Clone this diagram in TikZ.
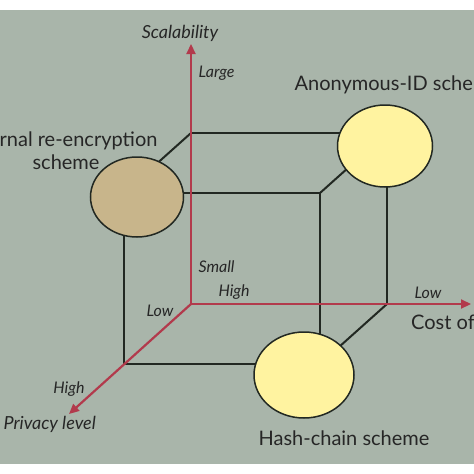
\documentclass[tikz,border=0pt]{standalone}
\usepackage{fontspec}
\setmainfont{Lato}
\usetikzlibrary{arrows.meta,shapes.geometric}
\definecolor{bg}{HTML}{A9B5AA}
\definecolor{axiscol}{HTML}{B23A4C}
\definecolor{yel}{HTML}{FFF3A0}
\definecolor{tanfill}{HTML}{C8B58B}
\definecolor{edge}{HTML}{222822}
\tikzset{
  cube/.style={draw=edge, line width=2pt},
  axisline/.style={draw=axiscol, line width=2.2pt, -{Triangle[length=10pt,width=9pt]}},
  scheme/.style={ellipse, draw=edge, line width=1.5pt, inner sep=0pt},
  big/.style={font=\fontsize{20}{23}\selectfont, text=black!85, align=center},
  ax/.style={font=\fontsize{18}{21}\selectfont\itshape, text=black!85},
  tick/.style={font=\fontsize{16}{19}\selectfont\itshape, text=black!85},
}
\begin{document}
\begin{tikzpicture}[x=1pt,y=-1pt]
\fill[white] (0,0) rectangle (474,474);
\fill[bg] (0,10) rectangle (474,464);
\useasboundingbox (0,0) rectangle (474,474);
% cube vertices
\coordinate (O) at (191,304);
\coordinate (BTL) at (191,133);
\coordinate (BTR) at (387,133);
\coordinate (BBR) at (387,304);
\coordinate (FBL) at (124,364);
\coordinate (FTL) at (124,193);
\coordinate (FTR) at (320,193);
\coordinate (FBR) at (320,364);
\coordinate (Ytip) at (191,44);
\coordinate (Xtip) at (471,304);
\coordinate (Ztip) at (69,414);
% cube edges
\draw[cube] (BTL) -- (BTR) -- (BBR);
\draw[cube] (BTL) -- (FTL);
\draw[cube] (BTR) -- (FTR);
\draw[cube] (BBR) -- (FBR);
\draw[cube] (FTL) -- (FTR) -- (FBR);
\draw[cube] (FTL) -- (FBL) -- (FBR);
% axes
\draw[axisline] (O) -- (Ytip);
\draw[axisline] (O) -- (Xtip);
\draw[axisline] (O) -- (Ztip);
% scheme ellipses
\node[scheme, fill=yel, minimum width=95pt, minimum height=82pt] (anon) at (385,146) {};
\node[scheme, fill=tanfill, minimum width=93pt, minimum height=80pt] (ext) at (137,197) {};
\node[scheme, fill=yel, minimum width=100pt, minimum height=86pt] (hash) at (304,375) {};
% labels
\node[big, anchor=east, inner sep=0pt] (anonlbl) at (473,85) {Anonymous-ID sche};
\node[big, anchor=east] (extlbl1) at (161,141) {rnal re-encryption};
\node[big] (extlbl2) at (66,162) {scheme};
\node[big] (hashlbl) at (344,438) {Hash-chain scheme};
\node[big, anchor=west, inner sep=0pt] (costlbl) at (411,322) {Cost of};
\node[ax] (scal) at (180,33) {Scalability};
\node[ax, anchor=west] (priv) at (0,424) {Privacy level};
\node[tick, anchor=west] (large) at (195,73) {Large};
\node[tick, anchor=west] (small) at (195,267) {Small};
\node[tick, anchor=west] (highx) at (215,292) {High};
\node[tick] (lowz) at (160,311) {Low};
\node[tick] (lowx) at (428,293) {Low};
\node[tick] (highz) at (69,389) {High};
\end{tikzpicture}
\end{document}
